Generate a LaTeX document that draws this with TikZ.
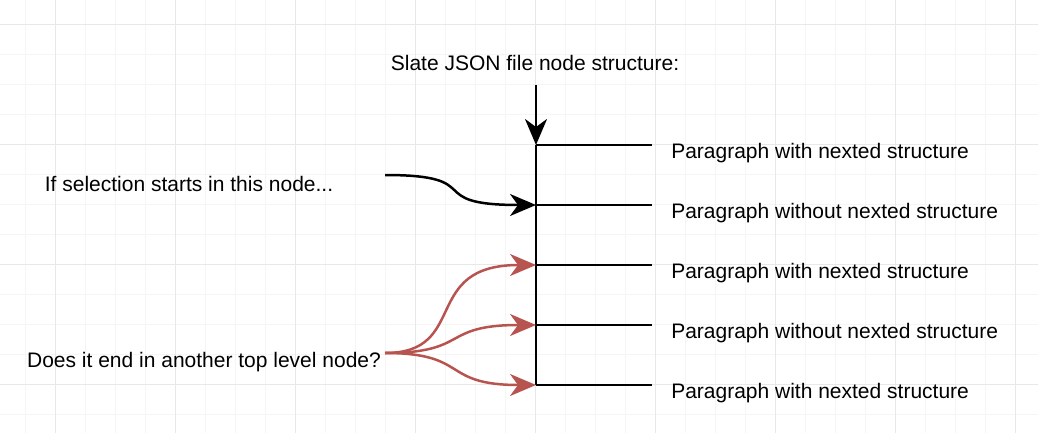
\documentclass[tikz,border=0pt]{standalone}
\usepackage{fontspec}
\setmainfont{Liberation Sans}
\usepackage{tikz}
\usetikzlibrary{arrows.meta}

\begin{document}
\begin{tikzpicture}[x=1pt,y=-1pt,>={Stealth[length=26pt,width=22pt,inset=8pt]},line width=2.5pt]
\tikzstyle{lbl}=[font=\fontsize{21}{24}\selectfont,inner sep=0pt]
\tikzstyle{branch}=[line width=2.5pt]
\tikzstyle{redarrow}=[->,draw={rgb,255:red,184;green,84;blue,80},line width=2.5pt]
\useasboundingbox (0,0) rectangle (1038,433);
  % grid
  \foreach \i in {0,...,34} \draw[line width=0.6pt,black!4] (25+30*\i,0)--(25+30*\i,433);
  \foreach \j in {0,...,14} \draw[line width=0.6pt,black!4] (0,24+30*\j)--(1038,24+30*\j);
  \foreach \i in {0,...,8} \draw[line width=0.8pt,black!9] (55+120*\i,0)--(55+120*\i,433);
  \foreach \j in {0,...,3} \draw[line width=0.8pt,black!9] (0,24+120*\j)--(1038,24+120*\j);
  % tree
  \node[lbl](title) at (535,63){Slate JSON file node structure:};
  \coordinate(top) at (536,85);
  \foreach \k/\t in {1/Paragraph with nexted structure,2/Paragraph without nexted structure,3/Paragraph with nexted structure,4/Paragraph without nexted structure,5/Paragraph with nexted structure}{
    \coordinate(b\k) at (536,85+60*\k);
    \coordinate(e\k) at (652,85+60*\k);
    \node[lbl,anchor=west](p\k) at (670,93+60*\k){\t};
    \draw[branch](b\k)--(e\k);
  }
  \draw[branch](b1)--(b5);
  \draw[->](top)--(b1);
  % questions
  \node[lbl](start) at (189,184){If selection starts in this node...};
  \node[lbl](end) at (204,362){Does it end in another top level node?};
  \coordinate(s) at (385,175);
  \coordinate(d) at (385,353);
  \draw[->](s)..controls(490,175) and (420,205)..(b2);
  \draw[redarrow](d)..controls(470,353) and (420,265)..(b3);
  \draw[redarrow](d)..controls(470,353) and (440,325)..(b4);
  \draw[redarrow](d)..controls(470,353) and (440,385)..(b5);
\end{tikzpicture}
\end{document}
